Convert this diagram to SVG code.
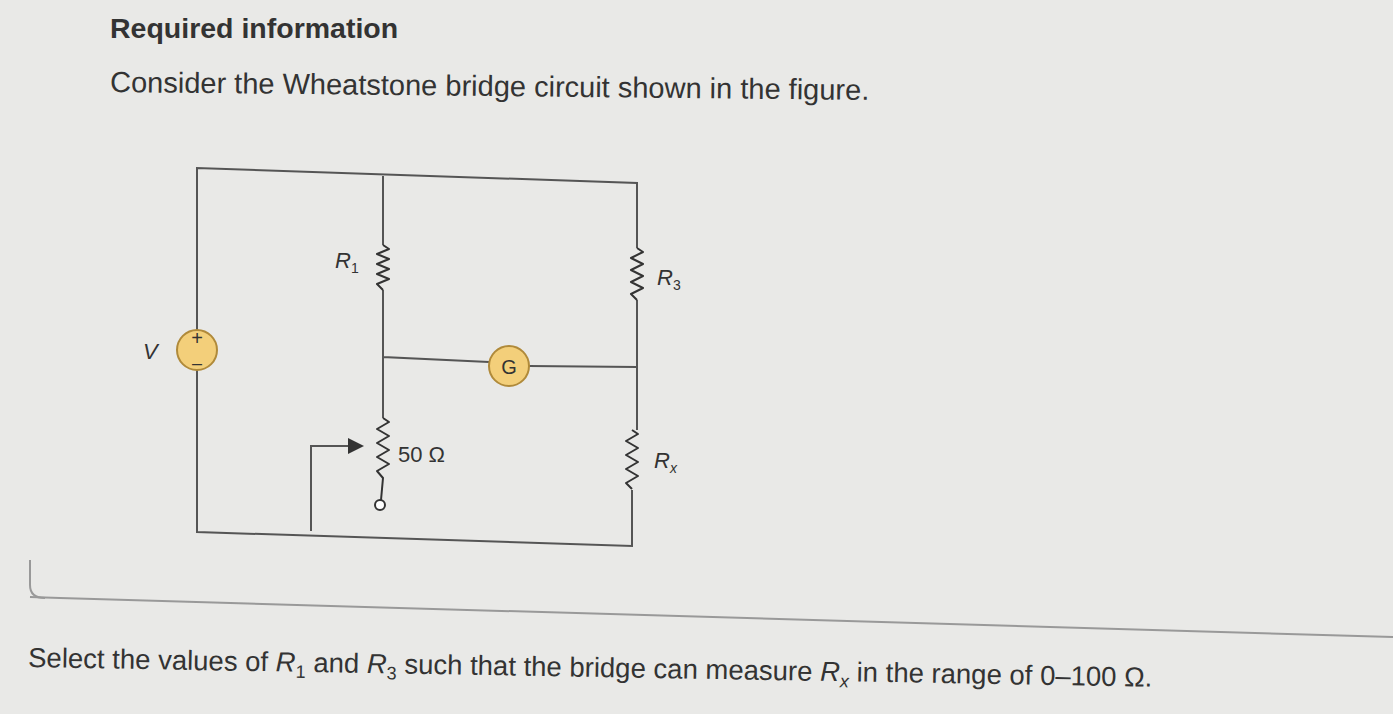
<svg xmlns="http://www.w3.org/2000/svg" width="1393" height="714" viewBox="0 0 1393 714">
<style>
.w{fill:none;stroke:#555;stroke-width:2}
.r{fill:none;stroke:#333;stroke-width:2;stroke-linejoin:round}
.t{font-family:"Liberation Sans",Arial,sans-serif;fill:#333}
.src{fill:#f3cf7a;stroke:#b08a3a;stroke-width:2}
</style>
<defs><marker id="ar" markerWidth="8" markerHeight="8" refX="7" refY="4" orient="auto"><path d="M0,0L8,4L0,8Z" fill="#333"/></marker></defs>
<rect width="1393" height="714" fill="#e9e9e7"/>
<path d="M30,597 Q30,597 60,598 L1393,637" fill="none" stroke="#999" stroke-width="2"/>
<path d="M30,560 L30,585 Q30,598 45,598" fill="none" stroke="#999" stroke-width="2"/>
<text class="t" x="110" y="38" font-size="28.5" font-weight="bold">Required information</text>
<text class="t" x="110" y="92" font-size="29" transform="rotate(0.6 110 92)">Consider the Wheatstone bridge circuit shown in the figure.</text>
<g id="connectors">
<path class="w" d="M197,330 L197,168 L637,183 L637,248"/>
<path class="w" d="M197,370 L197,532 L632,546 L632,490"/>
<path class="w" d="M383,176 L383,245 M383,290 L383,357 L489,362 M529,366 L637,367 M637,300 L637,430 M383,357 L383,418"/>
<path class="w" d="M311,531 L311,446 L362,446" marker-end="url(#ar)"/>
</g>
<g id="R1"><path class="r" d="M383,245 l6,4 l-12,5 l12,5 l-12,5 l12,5 l-12,5 l12,5 l-12,5 l6,6"/><text class="t" x="335" y="268" font-size="22" font-style="italic">R<tspan font-size="14" dy="5" font-style="normal">1</tspan></text></g>
<g id="R3"><path class="r" d="M637,248 l6,4 l-12,6 l12,6 l-12,6 l12,6 l-12,6 l12,6 l-12,6 l6,6"/><text class="t" x="657" y="285" font-size="22" font-style="italic">R<tspan font-size="14" dy="5" font-style="normal">3</tspan></text></g>
<g id="pot"><path class="r" d="M383,418 l6,4 l-12,7 l12,7 l-12,7 l12,7 l-12,7 l12,7 l-12,7 l6,7 L381,500"/><circle cx="380" cy="505" r="5" fill="#fff" stroke="#333" stroke-width="2"/><text class="t" x="398" y="462" font-size="22">50 Ω</text></g>
<g id="Rx"><path class="r" d="M632,430 l6,4 l-12,7 l12,7 l-12,7 l12,7 l-12,7 l12,7 l-12,7 l6,6"/><text class="t" x="654" y="468" font-size="22" font-style="italic">R<tspan font-size="14" dy="5">x</tspan></text></g>
<g id="V"><circle class="src" cx="197" cy="350" r="20"/><text class="t" x="197" y="345" font-size="20" text-anchor="middle">+</text><text class="t" x="197" y="369" font-size="18" text-anchor="middle">–</text><text class="t" x="143" y="359" font-size="22" font-style="italic">V</text></g>
<g id="G"><circle class="src" cx="509" cy="366" r="20"/><text class="t" x="509" y="374" font-size="20" text-anchor="middle" fill="#8a6a2a">G</text></g>
<text class="t" x="28" y="667" font-size="27.5" transform="rotate(1 28 667)">Select the values of <tspan font-style="italic">R</tspan><tspan font-size="18" dy="6">1</tspan><tspan dy="-6"> and </tspan><tspan font-style="italic">R</tspan><tspan font-size="18" dy="6">3</tspan><tspan dy="-6"> such that the bridge can measure </tspan><tspan font-style="italic">R</tspan><tspan font-size="18" dy="6" font-style="italic">x</tspan><tspan dy="-6"> in the range of 0–100 Ω.</tspan></text>
</svg>
